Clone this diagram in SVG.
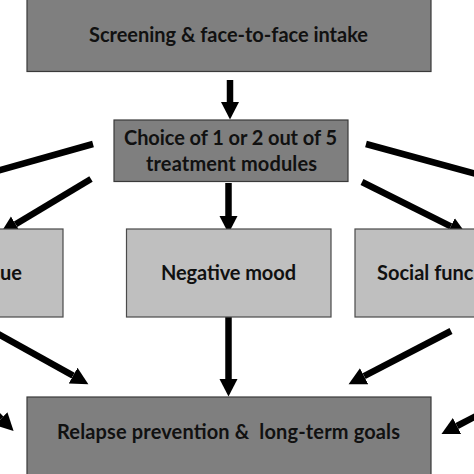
<svg xmlns="http://www.w3.org/2000/svg" width="474" height="474" viewBox="0 0 474 474">
<style>
.dark{fill:#7f7f7f;stroke:#3a3a3a;stroke-width:1.2}
.light{fill:#bfbfbf;stroke:#4a4a4a;stroke-width:1.2}
.t{font-family:Lato,"Open Sans","Liberation Sans",sans-serif;font-weight:bold;font-size:20px;fill:#111}
.c{stroke:#000;stroke-width:6.5;fill:none;marker-end:url(#ah)}
.n{stroke:#000;stroke-width:6.5;fill:none}
</style>
<defs>
<marker id="ah" markerUnits="userSpaceOnUse" markerWidth="18" markerHeight="20" viewBox="0 -10 18 20" refX="0" refY="0" orient="auto">
<path d="M0,-9 L17.5,0 L0,9 Z" fill="#000"/>
</marker>
</defs>
<rect width="474" height="474" fill="#fff"/>
<g id="connectors">
<line class="c" x1="230" y1="80" x2="230" y2="102"/>
<line class="c" x1="228.5" y1="183" x2="228.5" y2="216"/>
<line class="n" x1="93" y1="144" x2="-5" y2="171.4"/>
<line class="c" x1="91" y1="179" x2="15.6" y2="224.3"/>
<line class="n" x1="366" y1="144" x2="480" y2="175"/>
<line class="c" x1="362" y1="182" x2="450.8" y2="226.4"/>
<line class="c" x1="228.5" y1="317" x2="228.5" y2="379"/>
<line class="c" x1="-5" y1="332.2" x2="73.1" y2="375.7"/>
<line class="c" x1="451" y1="331" x2="364.1" y2="376.2"/>
<line class="c" x1="-20" y1="398" x2="1.1" y2="418.7"/>
<line class="c" x1="480" y1="414" x2="457" y2="426"/>
</g>
<g id="screening">
<rect class="dark" x="27" y="-2" width="404" height="73.5"/>
<text class="t" x="228.5" y="42" text-anchor="middle" textLength="279">Screening &amp; face-to-face intake</text>
</g>
<g id="choice">
<rect class="dark" x="114" y="120" width="234" height="61.5"/>
<text class="t" x="230.5" y="145" text-anchor="middle" textLength="213">Choice of 1 or 2 out of 5</text>
<text class="t" x="231.5" y="170.5" text-anchor="middle" textLength="171">treatment modules</text>
</g>
<g id="fatigue">
<rect class="light" x="-10" y="229" width="73" height="88"/>
<text class="t" x="0" y="280">ue</text>
</g>
<g id="negative-mood">
<rect class="light" x="126.5" y="229" width="204.5" height="88"/>
<text class="t" x="228.5" y="280" text-anchor="middle" textLength="135">Negative mood</text>
</g>
<g id="social">
<rect class="light" x="355" y="229" width="130" height="88"/>
<text class="t" x="377" y="280">Social func</text>
</g>
<g id="relapse">
<rect class="dark" x="27" y="397" width="404" height="85"/>
<text class="t" x="57" y="439" xml:space="preserve" textLength="343">Relapse prevention &amp;  long-term goals</text>
</g>
</svg>
